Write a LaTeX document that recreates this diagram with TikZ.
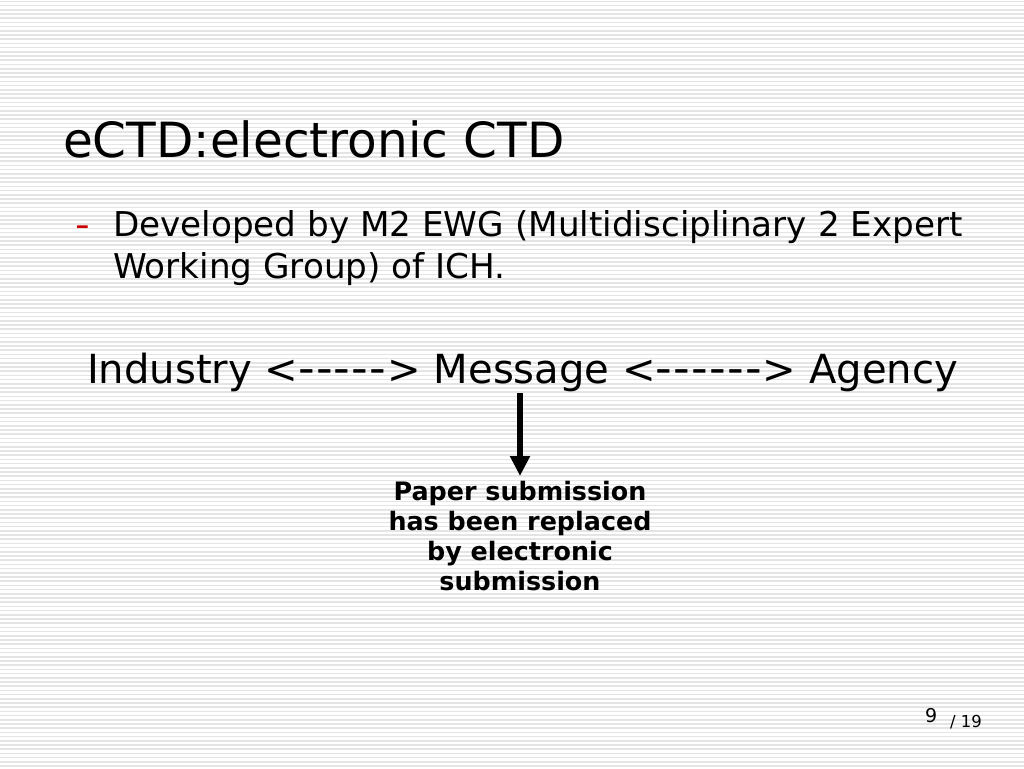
\documentclass[tikz,border=0pt]{standalone}
\usepackage{fontspec}
\setmainfont{DejaVu Sans}[Ligatures=TeXOff]
\usetikzlibrary{arrows.meta}
\definecolor{stripe}{RGB}{228,228,228}
\definecolor{dashred}{RGB}{204,0,0}
\newcommand\wdash{\scalebox{1.15}[1.1]{-}\kern1.2pt}
\tikzset{
  txt/.style={anchor=base west, inner sep=0pt, outer sep=0pt},
  boldtxt/.style={anchor=base, inner sep=0pt, font=\fontsize{25.4}{30}\selectfont\bfseries},
}
\begin{document}
\begin{tikzpicture}[x=1pt,y=-1pt]
\useasboundingbox (0,0) rectangle (1024,768);
\fill[white] (0,0) rectangle (1024,768);
\foreach \i in {0,...,182} {
  \draw[stripe, line width=1.6pt] (0,{1.5+\i*4.2}) -- (1024,{1.5+\i*4.2});
}
\node[txt, font=\fontsize{48.5}{56}\selectfont] (title) at (63,157) {eCTD:electronic CTD};
\node[txt, font=\fontsize{34}{40}\selectfont, text=dashred] (dash) at (75,236) {\scalebox{1.2}[1]{-}};
\node[txt, font=\fontsize{34.2}{40}\selectfont] (b1) at (113,236) {Developed by M2 EWG (Multidisciplinary 2 Expert};
\node[txt, font=\fontsize{34.2}{40}\selectfont] (b2) at (113,278) {Working Group) of ICH.};
\node[txt, font=\fontsize{40.1}{48}\selectfont] (flow) at (87,383) {Industry <\wdash\wdash\wdash\wdash\wdash> Message <\wdash\wdash\wdash\wdash\wdash\wdash> Agency};
\coordinate (astart) at (520,393);
\node[boldtxt] (p1) at (520,500) {Paper submission};
\node[boldtxt] (p2) at (520,530) {has been replaced};
\node[boldtxt] (p3) at (520,560) {by electronic};
\node[boldtxt] (p4) at (520,590) {submission};
\coordinate (aend) at (520,476);
\draw[line width=6pt, -{Triangle[width=19pt,length=20pt]}] (astart) -- (aend);
\node[txt, font=\fontsize{19}{22}\selectfont] (pg) at (925,722) {9};
\node[txt, font=\fontsize{16.5}{19}\selectfont] (tot) at (950,727) {/ 19};
\end{tikzpicture}
\end{document}
